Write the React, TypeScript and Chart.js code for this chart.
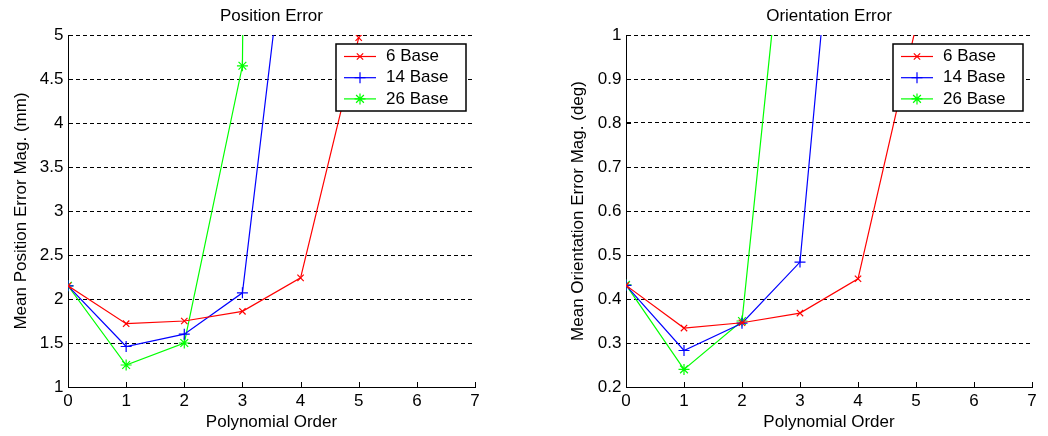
import { useEffect, useRef } from "react";
import { Chart, registerables } from "chart.js";

Chart.register(...registerables);

// x axis: polynomial order
const polyOrder = [0, 1, 2, 3, 4, 5];
const orderTicks = [0, 1, 2, 3, 4, 5, 6, 7];

const seriesNames = ["6 Base", "14 Base", "26 Base"];
const seriesColors = ["#ff0000", "#0000ff", "#00ff00"];
const seriesMarkers = ["crossRot", "cross", "star"];
const markerSizes = [4.5, 5.5, 5.5];

// position error (mm) - last points run off the top of the axes
const posBase6 = [2.15, 1.72, 1.75, 1.86, 2.24, 4.97];
const posBase14 = [2.15, 1.46, 1.6, 2.07, 7.6];
const posBase26 = [2.15, 1.25, 1.5, 4.65, 80];
const posTicks = [1, 1.5, 2, 2.5, 3, 3.5, 4, 4.5, 5];

// orientation error (deg)
const oriBase6 = [0.431, 0.334, 0.346, 0.368, 0.446, 1.02];
const oriBase14 = [0.431, 0.283, 0.345, 0.484, 1.91];
const oriBase26 = [0.432, 0.24, 0.35, 1.62];
const oriTicks = [0.2, 0.3, 0.4, 0.5, 0.6, 0.7, 0.8, 0.9, 1];

const FONT = "'Liberation Sans', Arial, sans-serif";
const font = { family: FONT, size: 17 };

function drawMarker(ctx: CanvasRenderingContext2D, style: string, x: number, y: number, r: number) {
  const d = r * Math.SQRT1_2;
  ctx.beginPath();
  if (style === "cross" || style === "star") {
    ctx.moveTo(x - r, y);
    ctx.lineTo(x + r, y);
    ctx.moveTo(x, y - r);
    ctx.lineTo(x, y + r);
  }
  if (style === "crossRot" || style === "star") {
    ctx.moveTo(x - d, y - d);
    ctx.lineTo(x + d, y + d);
    ctx.moveTo(x - d, y + d);
    ctx.lineTo(x + d, y - d);
  }
  ctx.stroke();
}

// small inward tick marks like matlab
const innerTicks = {
  id: "innerTicks",
  afterDatasetsDraw(chart: any) {
    const { ctx, chartArea, scales } = chart;
    ctx.save();
    ctx.strokeStyle = "#000";
    ctx.lineWidth = 1;
    ctx.beginPath();
    scales.x.ticks.forEach((t: any) => {
      const px = Math.round(scales.x.getPixelForValue(t.value)) + 0.5;
      ctx.moveTo(px, chartArea.bottom);
      ctx.lineTo(px, chartArea.bottom - 5);
    });
    scales.y.ticks.forEach((t: any) => {
      const py = Math.round(scales.y.getPixelForValue(t.value)) + 0.5;
      ctx.moveTo(chartArea.left, py);
      ctx.lineTo(chartArea.left + 5, py);
    });
    ctx.stroke();
    ctx.restore();
  },
};

// legend box in the upper right corner of the plot
const boxLegend = {
  id: "boxLegend",
  afterDraw(chart: any) {
    const { ctx, chartArea } = chart;
    const w = 130;
    const h = 67;
    const left = chartArea.right - 9 - w;
    const top = chartArea.top + 9;
    ctx.save();
    ctx.fillStyle = "#fff";
    ctx.fillRect(left, top, w, h);
    ctx.strokeStyle = "#000";
    ctx.lineWidth = 1.5;
    ctx.strokeRect(left, top, w, h);
    ctx.font = `${font.size}px ${FONT}`;
    ctx.textBaseline = "middle";
    ctx.textAlign = "left";
    chart.data.datasets.forEach((ds: any, i: number) => {
      const y = top + 12.5 + i * 21.2;
      ctx.strokeStyle = ds.borderColor;
      ctx.lineWidth = 1.2;
      ctx.beginPath();
      ctx.moveTo(left + 8, y);
      ctx.lineTo(left + 40, y);
      ctx.stroke();
      drawMarker(ctx, ds.pointStyle, left + 24, y, ds.pointRadius);
      ctx.fillStyle = "#000";
      ctx.fillText(ds.label, left + 50, y);
    });
    ctx.restore();
  },
};

type PanelProps = {
  title: string;
  yTitle: string;
  yTicks: number[];
  series: number[][];
  axisWidth: number;
  rightPad: number;
  yTitlePad: number;
};

function ErrorPanel({ title, yTitle, yTicks, series, axisWidth, rightPad, yTitlePad }: PanelProps) {
  const canvasRef = useRef<HTMLCanvasElement>(null);

  useEffect(() => {
    if (!canvasRef.current) return;

    const datasets = series.map((vals, i) => ({
      label: seriesNames[i],
      data: vals.map((v, j) => ({ x: polyOrder[j], y: v })),
      borderColor: seriesColors[i],
      backgroundColor: seriesColors[i],
      borderWidth: 1.2,
      pointStyle: seriesMarkers[i],
      pointRadius: markerSizes[i],
      pointBorderWidth: 1.2,
      pointBorderColor: seriesColors[i],
      tension: 0,
      fill: false,
    }));

    const chart = new Chart(canvasRef.current, {
      type: "line",
      data: { datasets },
      options: {
        animation: false,
        responsive: false,
        layout: { padding: { left: 0, right: rightPad, top: 0, bottom: 0 } },
        plugins: {
          legend: { display: false },
          tooltip: { enabled: false },
          title: {
            display: true,
            text: title,
            color: "#000",
            font: { ...font, weight: "normal" },
            fullSize: false,
            padding: { top: 5.7, bottom: 8.9 },
          },
        },
        scales: {
          x: {
            type: "linear",
            min: orderTicks[0],
            max: orderTicks[orderTicks.length - 1],
            afterBuildTicks: (s: any) => {
              s.ticks = orderTicks.map((v) => ({ value: v }));
            },
            afterFit: (s: any) => {
              s.height = 49;
            },
            ticks: { color: "#000", font, padding: 4, maxRotation: 0 },
            grid: { display: false, drawTicks: false },
            border: { display: true, color: "#000", width: 1 },
            title: {
              display: true,
              text: "Polynomial Order",
              color: "#000",
              font,
              padding: { top: 0, bottom: 3 },
            },
          },
          y: {
            type: "linear",
            min: yTicks[0],
            max: yTicks[yTicks.length - 1],
            afterBuildTicks: (s: any) => {
              s.ticks = yTicks.map((v) => ({ value: v }));
            },
            afterFit: (s: any) => {
              s.width = axisWidth;
            },
            ticks: {
              color: "#000",
              font,
              padding: 4.5,
              callback: (v: any) => String(+Number(v).toFixed(2)),
            },
            grid: { color: "#000", lineWidth: 1, drawTicks: false },
            border: { display: true, color: "#000", width: 1, dash: [4, 3] },
            title: {
              display: true,
              text: yTitle,
              color: "#000",
              font,
              padding: { top: yTitlePad, bottom: 0 },
            },
          },
        },
      },
      plugins: [innerTicks, boxLegend],
    } as any);

    return () => chart.destroy();
  }, []);

  return <canvas ref={canvasRef} width={524} height={436} style={{ display: "block" }} />;
}

export default function App() {
  return (
    <div
      style={{
        position: "absolute",
        left: 0,
        top: 0,
        width: 1048,
        height: 436,
        display: "flex",
        background: "#fff",
      }}
    >
      <ErrorPanel
        title="Position Error"
        yTitle="Mean Position Error Mag. (mm)"
        yTicks={posTicks}
        series={[posBase6, posBase14, posBase26]}
        axisWidth={68}
        rightPad={49}
        yTitlePad={11.2}
      />
      <ErrorPanel
        title="Orientation Error"
        yTitle="Mean Orientation Error Mag. (deg)"
        yTicks={oriTicks}
        series={[oriBase6, oriBase14, oriBase26]}
        axisWidth={102}
        rightPad={16}
        yTitlePad={44}
      />
    </div>
  );
}
